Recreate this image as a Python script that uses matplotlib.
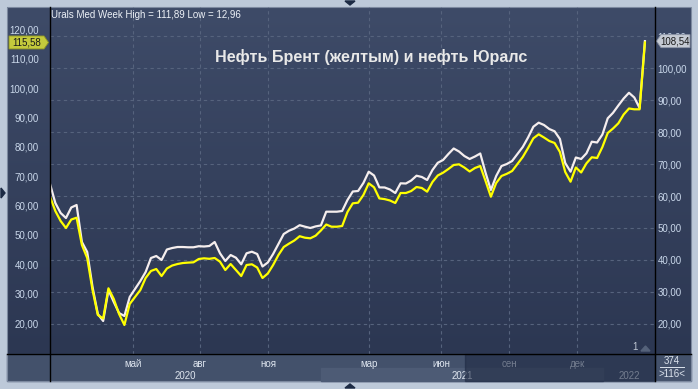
import numpy as np
import matplotlib
matplotlib.use("Agg")
import matplotlib.pyplot as plt
from matplotlib.patches import Rectangle, Polygon
from matplotlib.colors import LinearSegmentedColormap

plt.rcParams['font.family'] = ['Liberation Sans', 'DejaVu Sans']

# weekly closes, Jan 2020 - Mar 2022
brent = [63.03, 58.16, 54.75, 52.37, 55.26, 55.88, 46.58, 42.15, 31.24, 22.73,
         21.53, 31.82, 28.18, 23.07, 19.32, 26.47, 28.86, 31.24, 35.33, 37.72,
         38.40, 36.01, 38.57, 39.59, 40.10, 40.44, 40.58, 40.68, 41.81, 42.04,
         41.87, 42.15, 40.89, 38.06, 40.10, 38.06, 36.01, 39.76, 40.00, 38.91,
         35.33, 36.87, 39.76, 43.17, 45.89, 47.05, 48.11, 49.57, 49.06, 48.86,
         49.74, 51.52, 53.56, 52.81, 52.81, 53.05, 57.82, 60.78, 60.99, 63.61,
         67.60, 66.24, 62.45, 62.21, 61.74, 60.89, 64.29, 64.29, 64.97, 66.34,
         66.00, 64.74, 68.04, 70.26, 71.21, 72.47, 73.83, 74.07, 72.98, 71.62,
         72.81, 73.49, 68.38, 63.03, 67.70, 70.09, 70.83, 71.79, 74.17, 76.56,
         79.63, 82.93, 84.29, 83.20, 82.01, 81.33, 78.26, 71.45, 68.14, 72.98,
         71.28, 74.41, 76.46, 76.22, 79.97, 84.74, 86.27, 88.04, 91.04, 93.08,
         92.81, 92.81, 115.58]
urals = [63.76, 57.81, 54.67, 53.10, 56.40, 57.18, 45.58, 42.45, 31.47, 23.01,
         20.82, 30.53, 26.77, 23.32, 22.38, 28.34, 30.85, 33.35, 36.18, 40.56,
         41.19, 39.94, 43.23, 43.70, 44.01, 44.01, 43.92, 43.92, 44.26, 44.17,
         44.33, 45.58, 42.04, 39.62, 41.50, 40.66, 38.59, 42.04, 42.54, 41.82,
         37.90, 39.15, 41.82, 44.95, 48.09, 49.12, 49.81, 50.85, 50.38, 49.97,
         50.47, 50.78, 55.08, 55.08, 55.08, 55.30, 58.75, 61.41, 61.57, 64.08,
         67.62, 66.43, 62.70, 62.67, 62.04, 60.94, 63.98, 63.92, 64.86, 66.36,
         65.96, 65.02, 68.15, 70.41, 71.29, 73.17, 74.89, 73.95, 72.54, 71.60,
         72.38, 73.32, 67.30, 61.88, 66.27, 69.40, 70.03, 70.97, 73.17, 75.36,
         78.34, 81.72, 82.98, 82.26, 81.00, 80.28, 77.87, 70.34, 67.62, 72.07,
         71.60, 73.39, 77.02, 76.77, 79.28, 84.36, 86.08, 88.37, 90.56, 92.35,
         90.88, 87.59, 108.54]

month_labels = ['май', 'авг', 'ноя', 'мар', 'июн', 'сен', 'дек']
month_ticks = [15.7, 28.2, 41.1, 60.0, 73.7, 86.5, 99.3]
years = ['2020', '2021', '2022']
year_starts = [-0.1, 51.0, 104.1]
left_ticks = np.arange(20, 121, 10)
right_ticks = np.arange(20, 111, 10)

title = 'Нефть Брент (желтым) и нефть Юралс'
info = 'Urals Med Week High = 111,89 Low = 12,96'

def fmt(v):
    return f'{v:.2f}'.replace('.', ',')

W, H = 698, 389
fig = plt.figure(figsize=(W / 100, H / 100), dpi=100)
fig.patch.set_facecolor('#bdc9d9')

# background frame in pixel coordinates
bg = fig.add_axes([0, 0, 1, 1], zorder=0)
bg.set_xlim(0, W)
bg.set_ylim(H, 0)
bg.axis('off')
grad = np.linspace(0, 1, 256).reshape(-1, 1)
cmap = LinearSegmentedColormap.from_list('panel', ['#3e4b68', '#2c3752'])
bg.imshow(grad, extent=(7.3, 691, 354.3, 7.3), aspect='auto', cmap=cmap, zorder=0)
bg.add_patch(Rectangle((7.3, 354.3), 683.7, 26.7, color='#43516b', zorder=1))
bg.add_patch(Rectangle((7.3, 7.3), 683.7, 373.7, fill=False, ec='#7d8aa0', lw=0.8, zorder=2))

# main plot area
left, right, top, bottom = 49.5, 655, 7.3, 354.3
ax = fig.add_axes([left / W, 1 - bottom / H, (right - left) / W, (bottom - top) / H], zorder=1)
ax.patch.set_alpha(0)
x = np.arange(len(urals))
ax.plot(x, urals, color='#f5eeee', lw=1.6)
ax.set_xlim(-0.1, 113.9)
ax.set_ylim(10.38, 119.15)

ax2 = ax.twinx()
ax2.plot(x, brent, color='#ffff00', lw=1.6)
ax2.set_ylim(9.34, 127.56)

ax.yaxis.tick_right()
ax2.yaxis.tick_left()
ax.set_yticks(right_ticks, [fmt(v) for v in right_ticks])
ax2.set_yticks(left_ticks, [fmt(v) for v in left_ticks])
ax.tick_params(axis='y', length=0, pad=1.8, labelsize=7, labelcolor='#c9d7ea')
ax2.tick_params(axis='y', length=0, pad=7.5, labelsize=7, labelcolor='#c9d7ea')
ax.set_xticks(month_ticks, month_labels)
ax.tick_params(axis='x', length=0, pad=3.5, labelsize=7, labelcolor='#dde4ee')
ax.grid(True, color='#56637d', linestyle=(0, (3, 3)), linewidth=0.8)
for a in (ax, ax2):
    for s in a.spines.values():
        s.set_visible(False)

# year row
xt = ax.get_xaxis_transform()
ends = year_starts[1:] + [ax.get_xlim()[1]]
ax.add_patch(Rectangle((year_starts[1], -0.077), ends[1] - year_starts[1], 0.037,
                       transform=xt, color='#4d5b75', clip_on=False, zorder=0))
for yr, s, e in zip(years, year_starts, ends):
    ax.text((s + e) / 2, -0.0625, yr, transform=xt, ha='center', va='center',
            fontsize=7, color='#dde4ee', clip_on=False)

ax.text(0.003, 0.977, info, transform=ax.transAxes, fontsize=7, color='#eef2f8',
        ha='left', va='center')
ax.text(0.531, 0.857, title, transform=ax.transAxes, fontsize=11.6, fontweight='bold',
        color='#e8e8e8', ha='center', va='center')

# foreground overlays in pixel coordinates
fg = fig.add_axes([0, 0, 1, 1], zorder=5)
fg.set_xlim(0, W)
fg.set_ylim(H, 0)
fg.axis('off')
fg.patch.set_alpha(0)
fg.add_patch(Rectangle((465, 354.3), 190, 26.7, color='#1c2740', alpha=0.55))
fg.plot([49.5, 49.5], [7.3, 381], color='black', lw=1)
fg.plot([655, 655], [7.3, 381], color='black', lw=1)
fg.plot([7.3, 691], [354.3, 354.3], color='black', lw=1)

# last value flags
yb = H - ax2.transData.transform((0, brent[-1]))[1]
yu = H - ax.transData.transform((0, urals[-1]))[1]
fg.add_patch(Polygon([(9, yb - 6.5), (44, yb - 6.5), (48.5, yb), (44, yb + 6.5), (9, yb + 6.5)],
                     closed=True, fc='#c4ca3c', ec='#8e9424', lw=0.6))
fg.text(26.5, yb, fmt(brent[-1]), fontsize=7, color='#1a1a1a', ha='center', va='center')
fg.add_patch(Polygon([(656.5, yu), (661, yu - 6.5), (690, yu - 6.5), (690, yu + 6.5), (661, yu + 6.5)],
                     closed=True, fc='#c6cbd4', ec='#8e96a6', lw=0.6))
fg.text(675.5, yu, fmt(urals[-1]), fontsize=7, color='#1a1a1a', ha='center', va='center')

fg.text(635, 347, '1', fontsize=7, color='#c0c8d4', ha='center', va='center')
fg.add_patch(Polygon([(641, 351), (645.5, 346), (650, 351)], closed=True, color='#55627a'))
fg.text(672, 360.5, '374', fontsize=7, color='#dde4ee', ha='center', va='center')
fg.plot([660, 684], [367, 367], color='#dde4ee', lw=0.7)
fg.text(672, 374, '>116<', fontsize=7, color='#dde4ee', ha='center', va='center')

# small arrows on the outer border
tri = '#1c2a44'
fg.add_patch(Polygon([(345, 1), (355, 1), (350, 5)], closed=True, color=tri))
fg.add_patch(Polygon([(345, 388), (355, 388), (350, 384)], closed=True, color=tri))
fg.add_patch(Polygon([(1, 188), (1, 198), (5, 193)], closed=True, color=tri))

fig.savefig('out.png', dpi=100, facecolor=fig.get_facecolor())
